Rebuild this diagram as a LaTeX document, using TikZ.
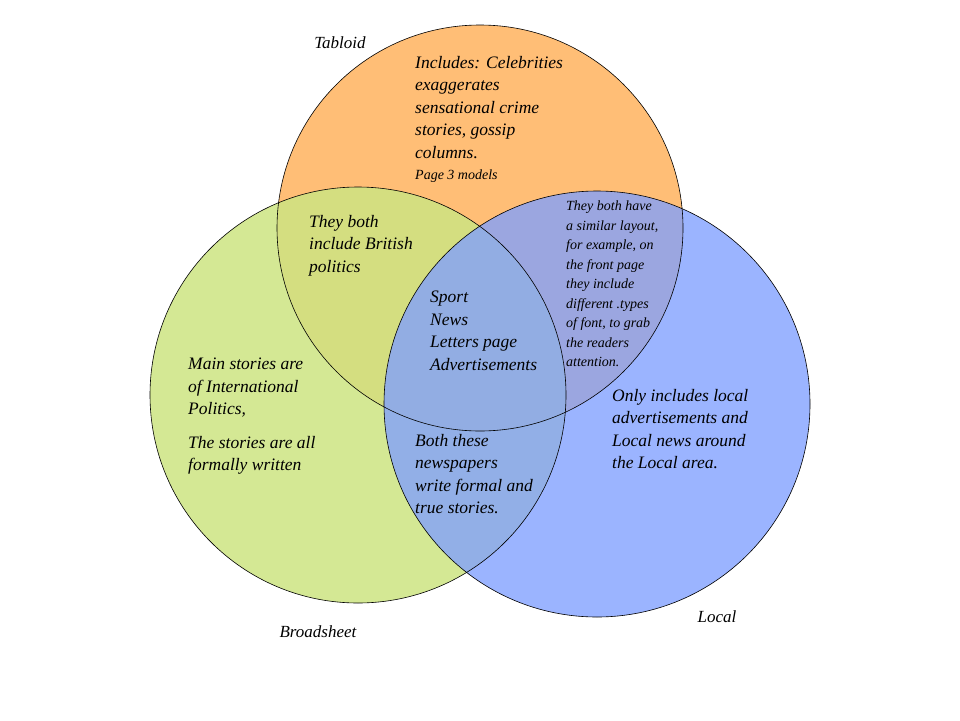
\documentclass[tikz,border=0pt]{standalone}
\usepackage{fontspec}
\setmainfont{Liberation Serif}
\begin{document}
\begin{tikzpicture}[x=1pt,y=-1pt,
  circ/.style={draw=black,line width=0.6pt},
  txt/.style={anchor=north west,align=left,inner sep=0pt,font=\fontsize{17.5}{22.5}\selectfont\itshape},
  sml/.style={anchor=north west,align=left,inner sep=0pt,font=\fontsize{14}{19.5}\selectfont\itshape},
  lbl/.style={inner sep=0pt,font=\fontsize{17}{20}\selectfont\itshape}]
\useasboundingbox (0,0) rectangle (960,720);
\fill[white] (0,0) rectangle (960,720);
\definecolor{orng}{RGB}{255,190,118}
\definecolor{grn}{RGB}{205,228,130}
\definecolor{blu}{RGB}{128,160,255}
\fill[orng] (480,228) circle (203);
\fill[grn,fill opacity=0.85] (358,395) circle (208);
\fill[blu,fill opacity=0.78] (597,404) circle (213);
\draw[circ] (480,228) circle (203);
\draw[circ] (358,395) circle (208);
\draw[circ] (597,404) circle (213);
\node[lbl] (tl) at (340,43) {Tabloid};
\node[lbl] (bl) at (318,632) {Broadsheet};
\node[lbl] (ll) at (717,617) {Local};
\node[txt] (t1) at (415,56) {Includes: Celebrities\\exaggerates\\sensational crime\\stories, gossip\\columns.};
\node[sml] (t2) at (415,170) {Page 3 models};
\node[txt] (tb) at (309,215) {They both\\include British\\politics};
\node[sml] (tlc) at (566,201) {They both have\\a similar layout,\\for example, on\\the front page\\they include\\different .types\\of font, to grab\\the readers\\attention.};
\node[txt] (c) at (430,291) {Sport\\News\\Letters page\\Advertisements};
\node[txt] (b1) at (188,358) {Main stories are\\of International\\Politics,};
\node[txt] (b2) at (188,436) {The stories are all\\formally written};
\node[txt] (bl2) at (415,434) {Both these\\newspapers\\write formal and\\true stories.};
\node[txt] (l1) at (612,389) {Only includes local\\advertisements and\\Local news around\\the Local area.};
\end{tikzpicture}
\end{document}
